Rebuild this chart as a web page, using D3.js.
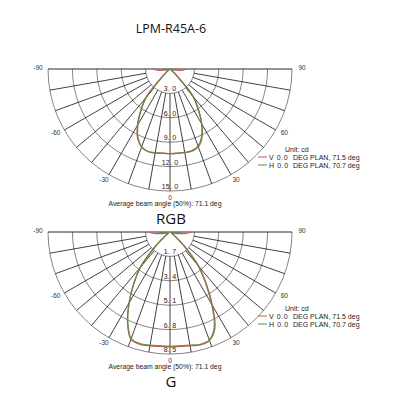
<!DOCTYPE html>
<html>
<head>
<meta charset="utf-8">
<script src="https://cdn.jsdelivr.net/npm/d3@7"></script>
<style>
  body { margin: 0; background: #fff; }
  text { font-family: "Liberation Sans", Arial, sans-serif; }
</style>
</head>
<body>
<div id="chart"></div>
<script>
// measured angles (deg, 0 = straight down)
const angleDeg = [-90, -85, -80, -75, -70, -65, -60, -55, -50, -45, -40, -35, -30, -25, -20, -15, -10, -5,
    0, 5, 10, 15, 20, 25, 30, 35, 40, 45, 50, 55, 60, 65, 70, 75, 80, 85, 90];

// RGB chart, cd
const rgbV = [2.0, 1.6, 0.8, 0.3, 0.15, 0.1, 0.1, 0.15, 0.4, 1.4, 4.6, 6.3, 8.0, 9.4, 10.2, 10.5, 10.5, 10.4,
    10.4, 10.4, 10.4, 10.4, 10.1, 9.2, 7.8, 6.1, 4.5, 1.3, 0.35, 0.15, 0.1, 0.1, 0.15, 0.3, 0.8, 1.6, 2.0];
const rgbH = [0.9, 0.7, 0.4, 0.2, 0.1, 0.1, 0.1, 0.1, 0.35, 1.3, 4.5, 6.2, 7.9, 9.3, 10.2, 10.5, 10.45, 10.4,
    10.4, 10.4, 10.45, 10.45, 10.2, 9.3, 7.8, 6.0, 4.4, 1.2, 0.3, 0.1, 0.1, 0.1, 0.1, 0.2, 0.4, 0.7, 0.9];

// G chart, cd
const gV = [1.5, 1.1, 0.6, 0.3, 0.15, 0.1, 0.1, 0.2, 0.5, 1.6, 3.2, 4.4, 5.7, 7.0, 7.95, 8.1, 8.05, 8.0,
    8.0, 8.0, 8.05, 8.15, 8.05, 7.4, 5.9, 4.4, 3.1, 1.5, 0.5, 0.2, 0.1, 0.1, 0.15, 0.3, 0.6, 1.1, 1.5];
const gH = [0.8, 0.6, 0.3, 0.2, 0.1, 0.1, 0.1, 0.15, 0.45, 1.5, 3.2, 4.4, 5.7, 6.95, 7.9, 8.05, 8.0, 7.95,
    7.95, 7.95, 8.0, 8.1, 8.0, 7.3, 5.8, 4.3, 3.0, 1.4, 0.45, 0.15, 0.1, 0.1, 0.1, 0.2, 0.3, 0.6, 0.8];

const rgbRings = [3.0, 6.0, 9.0, 12.0, 15.0];
const gRings = [1.7, 3.4, 5.1, 6.8, 8.5];
const spokeDeg = [-80, -70, -60, -50, -40, -30, -20, -10, 0, 10, 20, 30, 40, 50, 60, 70, 80];
const angleTicks = [-90, -60, -30, 0, 30, 60, 90];
const legendNames = ["V 0.0", "H 0.0"];
const legendPlans = ["DEG PLAN, 71.5 deg", "DEG PLAN, 70.7 deg"];
const avgBeam = "Average beam angle (50%): 71.1 deg";

const width = 400;
const height = 400;
const R = 122;
const colorV = "#d4534b";
const colorH = "#5a8a48";

const svg = d3.select("#chart")
    .append("svg")
    .attr("width", width)
    .attr("height", height)
    .attr("viewBox", [0, 0, width, height]);

svg.append("text")
    .attr("x", 171)
    .attr("y", 33)
    .attr("text-anchor", "middle")
    .style("font-family", "'Open Sans', sans-serif")
    .style("font-size", "12.5px")
    .attr("fill", "#111")
    .text("LPM-R45A-6");

function drawPolar({ cy, rings, v, h, title, legendY }) {
    const cx = 170;
    const g = svg.append("g");
    const r = d3.scaleLinear().domain([0, d3.max(rings)]).range([0, R]);
    const rad = (d) => (d * Math.PI) / 180;
    const px = (a, val) => cx + r(val) * Math.sin(rad(a));
    const py = (a, val) => cy + r(val) * Math.cos(rad(a));

    // rings (bottom half)
    rings.forEach((ring) => {
        const p = d3.path();
        p.arc(cx, cy, r(ring), 0, Math.PI);
        g.append("path")
            .attr("d", p.toString())
            .attr("fill", "none")
            .attr("stroke", "#333")
            .attr("stroke-width", 0.6);
    });

    // spokes
    g.selectAll(".spoke")
        .data(spokeDeg)
        .enter()
        .append("line")
        .attr("x1", (d) => px(d, rings[0]))
        .attr("y1", (d) => py(d, rings[0]))
        .attr("x2", (d) => px(d, d3.max(rings)))
        .attr("y2", (d) => py(d, d3.max(rings)))
        .attr("stroke", "#111")
        .attr("stroke-width", 0.8);

    g.append("line")
        .attr("x1", px(-90, d3.max(rings)))
        .attr("y1", cy)
        .attr("x2", px(90, d3.max(rings)))
        .attr("y2", cy)
        .attr("stroke", "#111")
        .attr("stroke-width", 0.9);

    // ring labels
    g.selectAll(".ring-label")
        .data(rings)
        .enter()
        .append("text")
        .attr("x", cx)
        .attr("y", (d) => cy + r(d) - 2)
        .attr("text-anchor", "middle")
        .style("font-size", "7px")
        .style("letter-spacing", "0.2px")
        .attr("fill", "#222")
        .text((d) => d.toFixed(1).replace(".", ". "));

    // angle labels
    g.selectAll(".angle-label")
        .data(angleTicks)
        .enter()
        .append("text")
        .attr("x", (d) => cx + (R + 10) * Math.sin(rad(d)))
        .attr("y", (d) => cy + (R + 8) * Math.cos(rad(d)) - 2)
        .attr("text-anchor", "middle")
        .attr("dominant-baseline", "central")
        .style("font-size", "6.5px")
        .attr("fill", "#333")
        .text((d) => d);

    // curves
    const curve = (vals) => d3.line()
        .x((d, i) => px(angleDeg[i], vals[i]))
        .y((d, i) => py(angleDeg[i], vals[i]))
        .curve(d3.curveCatmullRom.alpha(0.5))(vals);

    g.append("path")
        .attr("d", curve(v))
        .attr("fill", "none")
        .attr("stroke", colorV)
        .attr("stroke-width", 1.3);

    g.append("path")
        .attr("d", curve(h))
        .attr("fill", "none")
        .attr("stroke", colorH)
        .attr("stroke-opacity", 0.85)
        .attr("stroke-width", 1.3);

    // legend
    g.append("text")
        .attr("x", 285)
        .attr("y", legendY + 2.5)
        .style("font-size", "7px")
        .attr("fill", "#222")
        .text("Unit: cd");

    [colorV, colorH].forEach((c, i) => {
        const ly = legendY + 8 + i * 8;
        g.append("line")
            .attr("x1", 258)
            .attr("x2", 267)
            .attr("y1", ly)
            .attr("y2", ly)
            .attr("stroke", c)
            .attr("stroke-width", 1);
        g.append("text")
            .attr("x", 269)
            .attr("y", ly + 2.5)
            .style("font-size", "7px")
            .style("letter-spacing", "0.6px")
            .attr("fill", "#222")
            .text(legendNames[i]);
        g.append("text")
            .attr("x", 293)
            .attr("y", ly + 2.5)
            .style("font-size", "7px")
            .attr("fill", "#222")
            .text(legendPlans[i]);
    });

    g.append("text")
        .attr("x", 165)
        .attr("y", cy + 137)
        .attr("text-anchor", "middle")
        .style("font-size", "6.8px")
        .attr("fill", "#222")
        .text(avgBeam);

    g.append("text")
        .attr("x", 171)
        .attr("y", cy + 155)
        .attr("text-anchor", "middle")
        .style("font-family", "'Open Sans', sans-serif")
        .style("font-size", "15px")
        .attr("fill", "#111")
        .text(title);
}

drawPolar({ cy: 69, rings: rgbRings, v: rgbV, h: rgbH, title: "RGB", legendY: 149 });
drawPolar({ cy: 232, rings: gRings, v: gV, h: gH, title: "G", legendY: 308 });
</script>
</body>
</html>
